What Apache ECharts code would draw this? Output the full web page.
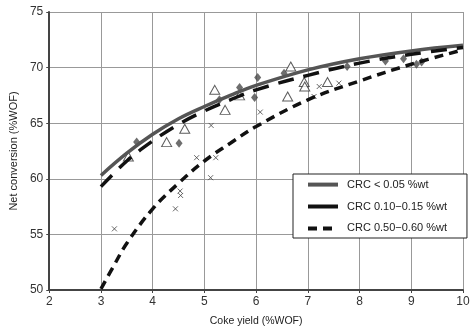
<!DOCTYPE html>
<html>
<head>
<meta charset="utf-8">
<script src="https://cdn.jsdelivr.net/npm/echarts@6/dist/echarts.min.js"></script>
<style>html,body{margin:0;padding:0;background:#fff}#c{width:474px;height:334px}</style>
</head>
<body>
<div id="c"></div>
<script>
// Fitted curves
var lowCrcX = [3, 3.5, 4, 4.5, 5, 5.5, 6, 7, 8, 9, 10];
var lowCrcY = [60.3, 62.3, 64.0, 65.4, 66.5, 67.5, 68.4, 69.8, 70.8, 71.5, 72.0];
var midCrcX = [3, 3.5, 4, 4.5, 5, 5.5, 6, 7, 8, 9, 10];
var midCrcY = [59.3, 61.6, 63.4, 64.9, 66.1, 67.1, 68.0, 69.3, 70.4, 71.2, 71.8];
var highCrcX = [3, 3.25, 3.5, 4, 4.5, 5, 5.5, 6, 7, 8, 9, 10];
var highCrcY = [50.1, 52.2, 54.2, 57.3, 59.6, 61.6, 63.2, 64.7, 67.1, 68.8, 70.3, 71.6];

// Measured points
var diamondX = [3.69, 4.51, 5.29, 5.68, 5.97, 6.03, 6.54, 7.76, 8.5, 8.85, 9.1, 9.2];
var diamondY = [63.3, 63.2, 67.1, 68.2, 67.3, 69.1, 69.5, 70.1, 70.6, 70.8, 70.3, 70.5];
var triangleX = [3.53, 4.27, 4.62, 5.2, 5.4, 5.68, 6.61, 6.67, 6.93, 6.94, 7.38];
var triangleY = [62.0, 63.3, 64.5, 68.0, 66.2, 67.5, 67.4, 70.1, 68.7, 68.3, 68.7];
var crossX = [3.26, 4.44, 4.53, 4.54, 4.85, 5.12, 5.13, 5.22, 6.08, 7.12, 7.22, 7.6];
var crossY = [55.5, 57.3, 58.9, 58.5, 61.9, 60.1, 64.8, 61.9, 66.0, 67.4, 68.3, 68.6];

var legendNames = ['CRC < 0.05 %wt', 'CRC 0.10\u22120.15 %wt', 'CRC 0.50\u22120.60 %wt'];

function pairs(xs, ys) { return xs.map(function (x, i) { return [x, ys[i]]; }); }

var FONT = 'Liberation Sans';
var chart = echarts.init(document.getElementById('c'), null, { renderer: 'canvas' });
chart.setOption({
  animation: false,
  textStyle: { fontFamily: FONT },
  grid: { left: 47, right: 11, top: 12, bottom: 44, containLabel: false },
  xAxis: {
    type: 'value', min: 2, max: 10, interval: 1,
    name: 'Coke yield (%WOF)', nameLocation: 'middle', nameGap: 26,
    nameTextStyle: { fontSize: 10.5, color: '#222', fontFamily: FONT },
    axisLine: { show: true, lineStyle: { color: '#444', width: 2 } },
    axisTick: { show: true, length: 3, lineStyle: { color: '#444' } },
    axisLabel: { fontSize: 12, color: '#333', margin: 6, fontFamily: FONT },
    splitLine: { show: true, lineStyle: { color: '#999', width: 1 } }
  },
  yAxis: {
    type: 'value', min: 50, max: 75, interval: 5,
    name: 'Net conversion (%WOF)', nameLocation: 'middle', nameGap: 26,
    nameTextStyle: { fontSize: 11, color: '#222', fontFamily: FONT },
    axisLine: { show: true, lineStyle: { color: '#444', width: 2 } },
    axisTick: { show: true, length: 3, lineStyle: { color: '#444' } },
    axisLabel: { fontSize: 12, color: '#333', margin: 6, fontFamily: FONT },
    splitLine: { show: true, lineStyle: { color: '#999', width: 1 } }
  },
  legend: {
    orient: 'vertical', left: 293, top: 174,
    padding: [5, 20, 4, 13], itemWidth: 30, itemHeight: 14, itemGap: 10.7,
    backgroundColor: '#fff', borderColor: '#222', borderWidth: 1, borderRadius: 0,
    itemStyle: { opacity: 0 },
    textStyle: { fontSize: 11, color: '#222', fontFamily: FONT, padding: [0, 0, 0, 4] },
    data: [
      { name: legendNames[0], lineStyle: { width: 4 } },
      { name: legendNames[1], lineStyle: { type: 'solid', width: 4 } },
      { name: legendNames[2], lineStyle: { width: 4 } }
    ]
  },
  series: [
    {
      name: 'pts1', type: 'scatter', data: pairs(diamondX, diamondY),
      symbol: 'diamond', symbolSize: [7, 9], z: 2,
      itemStyle: { color: '#4a4a4a' }
    },
    {
      name: 'pts2', type: 'scatter', data: pairs(triangleX, triangleY),
      symbol: 'triangle', symbolSize: [10, 9], z: 2,
      itemStyle: { color: '#fff', borderColor: '#333', borderWidth: 1 }
    },
    {
      name: 'pts3', type: 'scatter', data: pairs(crossX, crossY),
      symbol: 'path://M0,0L10,10M10,0L0,10', symbolSize: 5, z: 2,
      itemStyle: { color: 'transparent', borderColor: '#444', borderWidth: 1 }
    },
    {
      name: legendNames[0], type: 'line', data: pairs(lowCrcX, lowCrcY),
      smooth: 0.4, symbol: 'none', z: 3,
      lineStyle: { color: '#555', width: 3.5 },
      itemStyle: { color: '#555' }
    },
    {
      name: legendNames[1], type: 'line', data: pairs(midCrcX, midCrcY),
      smooth: 0.4, symbol: 'none', z: 4,
      lineStyle: { color: '#111', width: 3.5, type: [16, 10] },
      itemStyle: { color: '#111' }
    },
    {
      name: legendNames[2], type: 'line', data: pairs(highCrcX, highCrcY),
      smooth: 0.4, symbol: 'none', z: 4,
      lineStyle: { color: '#111', width: 3.5, type: [9, 6] },
      itemStyle: { color: '#111' }
    }
  ]
});
</script>
</body>
</html>
